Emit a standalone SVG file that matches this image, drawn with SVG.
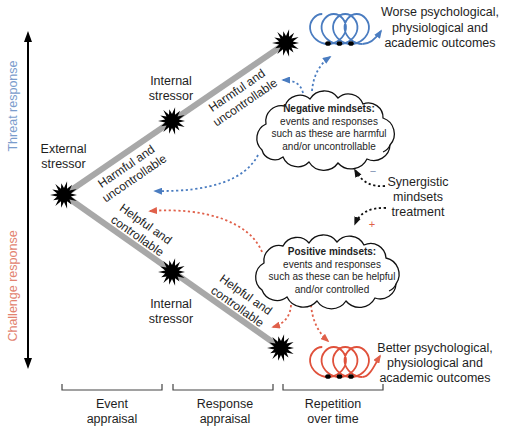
<svg xmlns="http://www.w3.org/2000/svg" width="509" height="430" viewBox="0 0 509 430">
<defs>
<style>
text{font-family:"Liberation Sans",Arial,Helvetica,sans-serif;fill:#1e1e1e}
.lbl{font-size:12.5px;text-anchor:middle}
.rot{font-size:12px;text-anchor:middle}
.cl{font-size:10px;text-anchor:middle}
.b{font-weight:bold}
.track{stroke:#a8a8a8;stroke-width:6;fill:none}
.dotb{stroke:#4a7cc0;stroke-width:1.8;stroke-dasharray:2.2 2.6;fill:none}
.dotr{stroke:#e0604a;stroke-width:1.8;stroke-dasharray:2.2 2.6;fill:none}
.dotk{stroke:#111;stroke-width:1.8;stroke-dasharray:2.2 2.6;fill:none}
.cloud{fill:#fff;stroke:#111;stroke-width:1.3}
.brk{fill:none;stroke:#444;stroke-width:1.2}
.spb{fill:none;stroke:#4a7cc0;stroke-width:1.8}
.spr{fill:none;stroke:#e0513b;stroke-width:1.8}
.star{fill:#000}
</style>
<marker id="mb" viewBox="0 0 10 8" refX="8" refY="4" markerWidth="9" markerHeight="7" orient="auto" markerUnits="userSpaceOnUse"><path d="M0,0 L10,4 L0,8 z" fill="#4a7cc0"/></marker>
<marker id="mr" viewBox="0 0 10 8" refX="8" refY="4" markerWidth="9" markerHeight="7" orient="auto" markerUnits="userSpaceOnUse"><path d="M0,0 L10,4 L0,8 z" fill="#e0604a"/></marker>
<marker id="mk" viewBox="0 0 10 8" refX="8" refY="4" markerWidth="9" markerHeight="7" orient="auto" markerUnits="userSpaceOnUse"><path d="M0,0 L10,4 L0,8 z" fill="#111"/></marker>
<polygon id="star" class="star" points="13,0 6.8,1.6 12.6,6.1 5.5,4.4 7.5,9.4 3,6.3 3.1,13.7 0,7 -2.9,12.7 -3,6.3 -8.7,10.9 -5.5,4.4 -10.8,5.2 -6.8,1.6 -14,0 -6.8,-1.6 -11.7,-5.6 -5.5,-4.4 -8.7,-10.9 -3,-6.3 -2.7,-11.7 0,-7 3.1,-13.7 3,-6.3 8.1,-10.2 5.5,-4.4 12.6,-6.1 6.8,-1.6"/>
<path id="coil" d="M322.25,14 C315.35,14 309.165,21.15 310.125,29 C311.085,36.85 319.19,44 328,44 C336.81,44 344.915,36.85 345.875,29 C346.835,21.15 340.65,14 333.75,14 C326.85,14 320.665,21.15 321.625,29 C322.585,36.85 330.69,44 339.5,44 C348.31,44 356.415,36.85 357.375,29 C358.335,21.15 352.15,14 345.25,14 C338.35,14 332.165,21.15 333.125,29 C334.085,36.85 342.19,44 351,44 C359.81,44 367.915,36.85 368.875,29 C369.835,21.15 363.65,14 356.75,14 C349.85,14 343.665,21.15 344.625,29 C345.585,36.85 353.69,44 362.5,44"/>
</defs>

<g id="axis">
<line x1="28" y1="40" x2="28" y2="360" stroke="#000" stroke-width="2"/>
<polygon points="28,31 24,42 32,42" fill="#000"/>
<polygon points="28,369 24,358 32,358" fill="#000"/>
<text transform="translate(16.5,106) rotate(-90)" class="lbl" style="fill:#7a9ccc">Threat response</text>
<text transform="translate(16.5,286) rotate(-90)" class="lbl" style="fill:#e2826f">Challenge response</text>
</g>

<g id="connectors">
<line class="track" x1="64" y1="195" x2="286" y2="43"/>
<line class="track" x1="64" y1="195" x2="281" y2="348"/>
<path class="dotb" d="M303,93 Q300,80 283,80" marker-end="url(#mb)"/>
<path class="dotb" d="M312,91 Q314,68 330,57" marker-end="url(#mb)"/>
<path class="dotb" d="M258,155 C245,180 210,192 155,191" marker-end="url(#mb)"/>
<path class="dotr" d="M262,252 C250,222 205,207 150,211" marker-end="url(#mr)"/>
<path class="dotr" d="M291,305 Q290,322 273,327" marker-end="url(#mr)"/>
<path class="dotr" d="M311,305 Q313,328 328,341" marker-end="url(#mr)"/>
<path class="dotk" d="M385,186 Q365,188 355,170" marker-end="url(#mk)"/>
<path class="dotk" d="M386,208 Q362,207 355,224" marker-end="url(#mk)"/>
<text x="373" y="175" style="font-size:11px;fill:#7a8fb0;text-anchor:middle">−</text>
<text x="372" y="228" style="font-size:11px;fill:#e0604a;text-anchor:middle">+</text>
</g>

<g id="labels-appraisal">
<g transform="translate(119.7,156.9) rotate(-34.4)"><text class="rot" y="15.5">Harmful and</text><text class="rot" y="30">uncontrollable</text></g>
<g transform="translate(230.4,81) rotate(-34.4)"><text class="rot" y="15.5">Harmful and</text><text class="rot" y="30">uncontrollable</text></g>
<g transform="translate(132.2,243.2) rotate(35.2)"><text class="rot" y="-19.5">Helpful and</text><text class="rot" y="-5">controllable</text></g>
<g transform="translate(232.3,313.9) rotate(35.2)"><text class="rot" y="-19.5">Helpful and</text><text class="rot" y="-5">controllable</text></g>
</g>

<g id="node-external-stressor">
<use href="#star" x="64" y="195"/>
<text class="lbl" x="63.5" y="153">External</text><text class="lbl" x="63.5" y="168">stressor</text>
</g>
<g id="node-internal-stressor-threat">
<use href="#star" x="172" y="121"/>
<text class="lbl" x="171" y="85">Internal</text><text class="lbl" x="171" y="100">stressor</text>
</g>
<g id="node-threat-end">
<use href="#star" x="286" y="43"/>
</g>
<g id="node-internal-stressor-challenge">
<use href="#star" x="172" y="272"/>
<text class="lbl" x="171" y="308">Internal</text><text class="lbl" x="171" y="323">stressor</text>
</g>
<g id="node-challenge-end">
<use href="#star" x="281" y="348"/>
</g>

<g id="node-negative-mindsets">
<path class="cloud" d="M262,150 A15.8,15.8 0 0 1 266,124 A15.7,15.7 0 0 1 285,106 A15.6,15.6 0 0 1 310,99 A16.8,16.8 0 0 1 338,98 A15.4,15.4 0 0 1 363,104 A14.6,14.6 0 0 1 383,118 A16.7,16.7 0 0 1 390,145 A16.2,16.2 0 0 1 367,159 A17.6,17.6 0 0 1 338,163 A17.4,17.4 0 0 1 309,162 A15.9,15.9 0 0 1 283,157 A13.3,13.3 0 0 1 262,150 Z"/>
<path d="M390,145 q-2,5 -7,7" fill="none" stroke="#111" stroke-width="1.1"/>
<text class="cl b" x="329" y="112">Negative mindsets:</text>
<text class="cl" x="329" y="124.5">events and responses</text>
<text class="cl" x="329" y="137">such as these are harmful</text>
<text class="cl" x="329" y="149.5">and/or uncontrollable</text>
</g>

<g id="node-positive-mindsets">
<path class="cloud" d="M262,290 A16.2,16.2 0 0 1 264,263 A15.3,15.3 0 0 1 283,246 A15.7,15.7 0 0 1 309,243 A16.8,16.8 0 0 1 337,242 A16.3,16.3 0 0 1 364,245 A15.3,15.3 0 0 1 386,258 A16.7,16.7 0 0 1 396,284 A15.8,15.8 0 0 1 375,298 A17.5,17.5 0 0 1 346,301 A17.4,17.4 0 0 1 317,301 A18.2,18.2 0 0 1 287,297 A16,16 0 0 1 262,290 Z"/>
<path d="M396,284 q-2,5 -7,7" fill="none" stroke="#111" stroke-width="1.1"/>
<text class="cl b" x="332" y="255">Positive mindsets:</text>
<text class="cl" x="332" y="267.5">events and responses</text>
<text class="cl" x="332" y="280">such as these can be helpful</text>
<text class="cl" x="332" y="292.5">and/or controlled</text>
</g>

<g id="node-synergistic-treatment">
<text class="lbl" x="418" y="186">Synergistic</text>
<text class="lbl" x="418" y="201">mindsets</text>
<text class="lbl" x="418" y="216">treatment</text>
</g>

<g id="node-worse-outcomes">
<use href="#coil" class="spb"/>
<path class="spb" d="M362.5,44 C371,44 377,37 381,31" marker-end="url(#mb)"/>
<ellipse cx="328" cy="43.5" rx="2.8" ry="2.3"/>
<ellipse cx="339.5" cy="43.5" rx="2.8" ry="2.3"/>
<ellipse cx="351" cy="43.5" rx="2.8" ry="2.3"/>
<text class="lbl" x="440" y="16">Worse psychological,</text>
<text class="lbl" x="440" y="31.5">physiological and</text>
<text class="lbl" x="440" y="47">academic outcomes</text>
</g>

<g id="node-better-outcomes">
<g transform="translate(0,333)">
<use href="#coil" class="spr"/>
<path class="spr" d="M362.5,44 C370,44 375,31 380,23" marker-end="url(#mr)"/>
<ellipse cx="328" cy="43.5" rx="2.8" ry="2.3"/>
<ellipse cx="339.5" cy="43.5" rx="2.8" ry="2.3"/>
<ellipse cx="351" cy="43.5" rx="2.8" ry="2.3"/>
</g>
<text class="lbl" x="435" y="352">Better psychological,</text>
<text class="lbl" x="435" y="367">physiological and</text>
<text class="lbl" x="435" y="382">academic outcomes</text>
</g>

<g id="phases">
<path class="brk" d="M62,384 V390 H162 V384"/>
<path class="brk" d="M173,384 V390 H273 V384"/>
<path class="brk" d="M283,384 V390 H383 V384"/>
<text class="lbl" x="112" y="408">Event</text><text class="lbl" x="112" y="423">appraisal</text>
<text class="lbl" x="225" y="408">Response</text><text class="lbl" x="225" y="423">appraisal</text>
<text class="lbl" x="333" y="408">Repetition</text><text class="lbl" x="333" y="423">over time</text>
</g>
</svg>
